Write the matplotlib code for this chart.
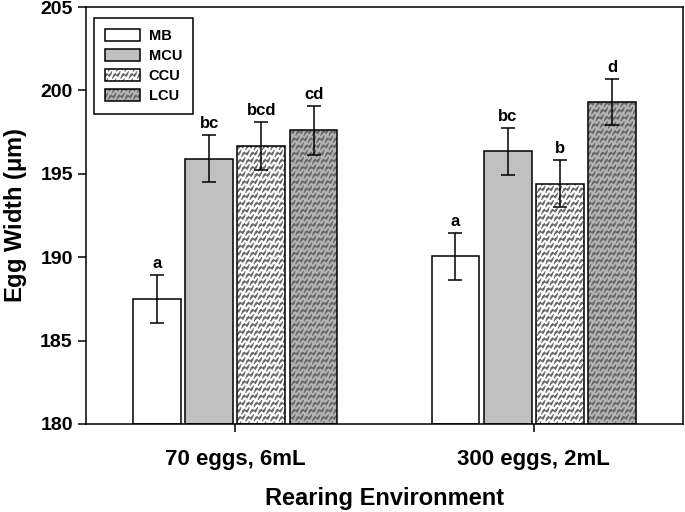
import numpy as np
import matplotlib
matplotlib.use("Agg")
import matplotlib.pyplot as plt
import matplotlib.hatch as mhatch
from matplotlib.path import Path
from matplotlib.patches import Patch

plt.rcParams["font.family"] = ["Liberation Sans", "DejaVu Sans"]
plt.rcParams["font.weight"] = "bold"
plt.rcParams["hatch.linewidth"] = 0.75

# data
groups = ["70 eggs, 6mL", "300 eggs, 2mL"]
treatments = ["MB", "MCU", "CCU", "LCU"]
mb = [187.5, 190.05]
mcu = [195.9, 196.35]
ccu = [196.65, 194.4]
lcu = [197.6, 199.3]
mb_err = [1.45, 1.4]
mcu_err = [1.4, 1.4]
ccu_err = [1.45, 1.4]
lcu_err = [1.45, 1.4]
mb_lbl = ["a", "a"]
mcu_lbl = ["bc", "bc"]
ccu_lbl = ["bcd", "b"]
lcu_lbl = ["cd", "d"]


# wavy "scale" texture like the SigmaPlot fill, used for every 'x' hatch here
class WaveHatch(mhatch.HatchPatternBase):
    shape = np.array([[0.0, -0.45], [0.18, 0.05], [0.38, 0.2], [0.55, -0.05],
                      [0.72, -0.2], [0.9, 0.1], [1.0, 0.45]])

    def __init__(self, hatch, density):
        self.rows = 14 if "x" in hatch else 0
        self.cols = 12
        self.num_vertices = self.rows * (self.cols + 1) * len(self.shape)

    def set_vertices_and_codes(self, vertices, codes):
        h = 1.0 / self.rows
        w = 1.0 / self.cols
        k = 0
        n = len(self.shape)
        for r in range(self.rows):
            y0 = (r + 0.5) * h
            shift = -0.5 * w if r % 2 else 0.0
            for c in range(self.cols + 1):
                x0 = c * w + shift
                vertices[k:k + n, 0] = x0 + self.shape[:, 0] * w * 0.9
                vertices[k:k + n, 1] = y0 + self.shape[:, 1] * h
                codes[k] = Path.MOVETO
                codes[k + 1:k + n] = Path.LINETO
                k += n


mhatch._hatch_types[:] = [WaveHatch]

values = [mb, mcu, ccu, lcu]
errors = [mb_err, mcu_err, ccu_err, lcu_err]
letters = [mb_lbl, mcu_lbl, ccu_lbl, lcu_lbl]
fills = ["white", "#c0c0c0", "white", "#b4b4b4"]
hatches = [None, None, "x", "x"]

fig = plt.figure(figsize=(6.85, 5.12), dpi=100)
ax = fig.add_axes([86/685, 1-424/512, (683-86)/685, (424-7)/512])

x = np.arange(len(groups))
step = 0.175
width = 0.16
handles = []
for i in range(4):
    pos = x + (i - 1.5) * step
    heights = np.array(values[i]) - 180
    # fill + gray hatch, then black outline on top
    ax.bar(pos, heights, width, bottom=180, color=fills[i], edgecolor="#666666",
           linewidth=0, hatch=hatches[i], zorder=2)
    ax.bar(pos, heights, width, bottom=180, fill=False, edgecolor="black",
           linewidth=1.1, zorder=2)
    ax.errorbar(pos, values[i], yerr=errors[i], fmt="none", ecolor="black",
                elinewidth=1.1, capsize=4.8, capthick=1.1, zorder=3)
    for j in range(len(groups)):
        ax.annotate(letters[i][j], (pos[j], values[i][j] + errors[i][j]),
                    xytext=(0, 3), textcoords="offset points", ha="center",
                    va="bottom", fontsize=12, fontweight="bold")
    handles.append((Patch(facecolor=fills[i], edgecolor="#666666", linewidth=0, hatch=hatches[i]),
                    Patch(fill=False, edgecolor="black", linewidth=1.1)))

ax.set_xlim(-0.5, 1.5)
ax.set_ylim(180, 205)
ax.set_yticks([180, 185, 190, 195, 200, 205])
ax.set_xticks(x)
ax.set_xticklabels(groups, fontsize=16, fontweight="bold")
ax.tick_params(axis="y", labelsize=14, length=6, width=1.1)
ax.tick_params(axis="x", length=6, width=1.1, pad=12)
for s in ax.spines.values():
    s.set_linewidth(1.1)

ax.set_xlabel("Rearing Environment", fontsize=17, fontweight="bold", labelpad=12)
ax.set_ylabel("Egg Width ($\\mathregular{\\mu}$m)", fontsize=17, fontweight="bold", labelpad=8)

leg = ax.legend(handles, treatments, loc="upper left", bbox_to_anchor=(0.0134, 0.974),
                borderaxespad=0, fontsize=10.5, frameon=True, fancybox=False,
                edgecolor="black", framealpha=1, handlelength=2.4, handleheight=0.9,
                labelspacing=0.4, borderpad=0.75, handletextpad=0.6)
leg.get_frame().set_linewidth(1.1)

fig.savefig("out.png", dpi=100)
